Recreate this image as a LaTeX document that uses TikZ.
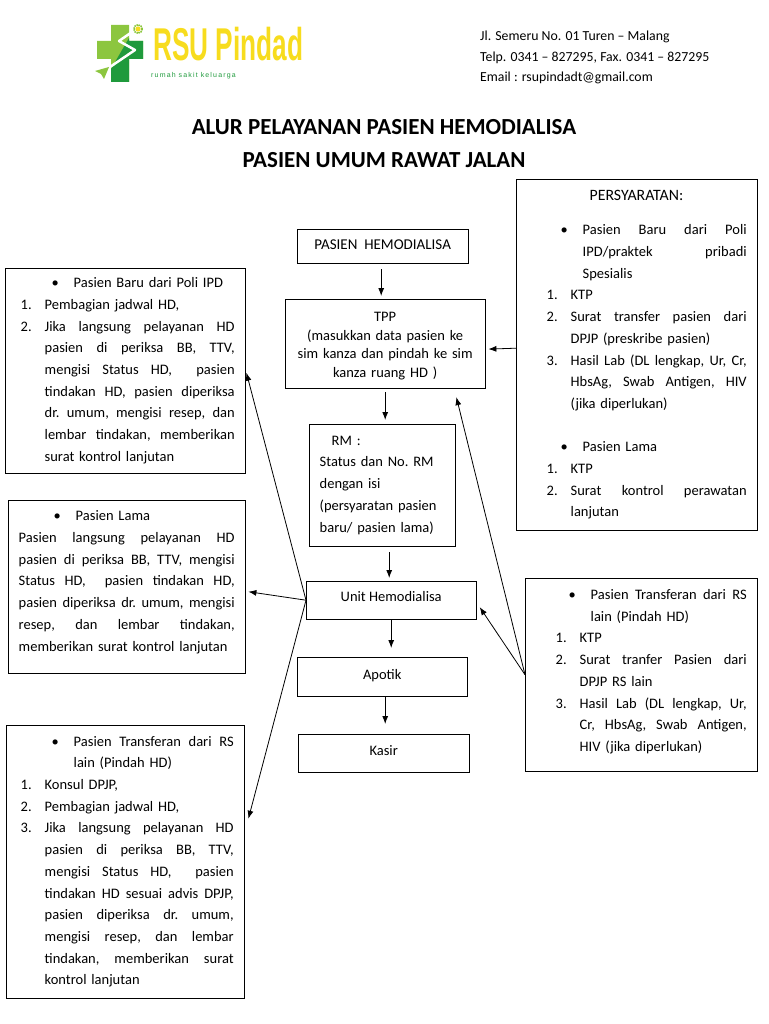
\documentclass[tikz,border=0pt]{standalone}
\usepackage{fontspec}
\usepackage{graphicx}
\setmainfont{Carlito}
\newfontfamily\logofont{Liberation Sans}
\usetikzlibrary{arrows.meta}

\newdimen\boxw
\newcommand{\jl}[2]{\hbox to \boxw{\frenchspacing\spaceskip=0.226em plus 1fil\relax\hskip #1pt\relax #2}}
\newcommand{\pl}[2]{\hbox to \boxw{\frenchspacing\hskip #1pt\relax #2\hfil}}
\newcommand{\nm}[1]{\llap{\hbox to 24pt{#1\hfil}}}
\newcommand{\bl}{\llap{\hbox to 22pt{\textbullet\hfil}}}
\newcommand{\up}[2][4]{\raisebox{#1pt}{#2}}

\definecolor{logolight}{HTML}{8CC63F}
\definecolor{logodark}{HTML}{1F9A3C}
\definecolor{logoyellow}{HTML}{F7DC1E}

\tikzset{
  body/.style={font=\fontsize{14.5}{21.7}\selectfont},
  kop/.style={font=\fontsize{13.8}{21}\selectfont,anchor=west,inner sep=0pt},
  infobox/.style={body,draw,anchor=north west,inner xsep=10.5pt,inner ysep=0pt,text width=#1pt,execute at begin node={\boxw=#1pt\relax}},
  stepbox/.style={body,draw,anchor=north west,inner sep=0pt,align=center},
  arr/.style={-{Latex[length=8pt,width=6pt]},line width=0.8pt}
}

\begin{document}
\begin{tikzpicture}[x=1pt,y=-1pt]

\useasboundingbox (0,0) rectangle (768,1024);

\fill[logolight] (111,25)--(129,25)--(129,41)--(143,41)--(143,59)--(129,59)--(129,82)--(111,82)--(111,59)--(97,59)--(97,41)--(111,41)--cycle;
\fill[logodark] (129,38)--(129,41)--(143,41)--(143,59)--(129,59)--(129,82)--(111,82)--(111,69)--cycle;
\draw[white,line width=2.5pt,line join=round] (132,32)--(119,41)--(135,50)--(107,69);
\fill[logolight] (95,71)--(109,67)--(104,79)--(101,74)--cycle;
\draw[logolight,line width=1.6pt,dash pattern=on 1.5pt off 0.7pt] (138,29) circle (4.2);
\fill[logoyellow] (138,29) circle (2.6);
\node[anchor=west,inner sep=0pt,text=logoyellow] (logotitle) at (153,44) {\scalebox{0.57}[1]{\logofont\bfseries\fontsize{46}{46}\selectfont RSU Pindad}};
\node[anchor=west,inner sep=0pt,text=logodark] (logosub) at (151,76) {\logofont\fontsize{7}{8}\selectfont r\,u\,m\,a\,h\hskip 3pt s\,a\,k\,i\,t\hskip 3pt k\,e\,l\,u\,a\,r\,g\,a};

\node[kop] (alamat) at (480,37) {Jl. Semeru No. 01 Turen – Malang};
\node[kop] (telp) at (480,58) {Telp. 0341 – 827295, Fax. 0341 – 827295};
\node[kop] (email) at (480,78) {Email : rsupindadt@gmail.com};

\node[font=\fontsize{23}{33}\selectfont\bfseries,align=center,inner sep=0pt] (judul) at (384,143.5) {ALUR PELAYANAN PASIEN HEMODIALISA\\PASIEN UMUM RAWAT JALAN};

\node[stepbox,minimum width=171pt,minimum height=34pt] (pasien) at (297,229) {\up{\fontsize{15}{21.7}\selectfont PASIEN\ \ HEMODIALISA}};
\node[stepbox,minimum width=200pt,minimum height=89pt,text width=198pt,font=\fontsize{14.5}{18.5}\selectfont] (tpp) at (285,299) {\rule{0pt}{14pt}TPP\\(masukkan data pasien ke\\sim kanza dan pindah ke sim\\kanza ruang HD )};
\node[infobox=125,minimum height=122pt] (rm) at (309,424) {
\pl{12}{RM :}
\pl{0}{Status dan No. RM}
\pl{0}{dengan isi}
\pl{0}{(persyaratan pasien}
\pl{0}{baru/ pasien lama)}
};
\node[stepbox,minimum width=170pt,minimum height=38pt] (unit) at (306,581) {\up[7]{Unit Hemodialisa}};
\node[stepbox,minimum width=170pt,minimum height=39pt] (apotik) at (297,657) {\up[5]{Apotik}};
\node[stepbox,minimum width=171pt,minimum height=38pt] (kasir) at (298,734) {\up[6]{Kasir}};

\node[infobox=219,minimum height=205pt] (baru) at (5,268) {
\pl{58}{\bl Pasien Baru dari Poli IPD}
\pl{29}{\nm{1.}Pembagian jadwal HD,}
\jl{29}{\nm{2.}Jika langsung pelayanan HD}
\jl{29}{pasien di periksa BB, TTV,}
\jl{29}{mengisi Status HD,\ \ pasien}
\jl{29}{tindakan HD, pasien diperiksa}
\jl{29}{dr. umum, mengisi resep, dan}
\jl{29}{lembar tindakan, memberikan}
\pl{29}{surat kontrol lanjutan}
};
\node[infobox=216,minimum height=173pt] (lama) at (8,500) {
\pl{57}{\bl Pasien Lama}
\jl{0}{Pasien langsung pelayanan HD}
\jl{0}{pasien di periksa BB, TTV, mengisi}
\jl{0}{Status HD,\ \ pasien tindakan HD,}
\jl{0}{pasien diperiksa dr. umum, mengisi}
\jl{0}{resep, dan lembar tindakan,}
\pl{0}{memberikan surat kontrol lanjutan}
\vskip 9pt\kern0pt
};
\node[infobox=217,minimum height=273pt] (rujuk) at (6,725) {
\jl{57}{\bl Pasien Transferan dari RS}
\pl{57}{lain (Pindah HD)}
\pl{28}{\nm{1.}Konsul DPJP,}
\pl{28}{\nm{2.}Pembagian jadwal HD,}
\jl{28}{\nm{3.}Jika langsung pelayanan HD}
\jl{28}{pasien di periksa BB, TTV,}
\jl{28}{mengisi Status HD,\ \ pasien}
\jl{28}{tindakan HD sesuai advis DPJP,}
\jl{28}{pasien diperiksa dr. umum,}
\jl{28}{mengisi resep, dan lembar}
\jl{28}{tindakan, memberikan surat}
\pl{28}{kontrol lanjutan}
};

\node[infobox=220,minimum height=351pt] (syarat) at (516,179) {
\pl{63}{\fontsize{15.8}{21.7}\selectfont PERSYARATAN:}
\vskip 13pt
\jl{56}{\bl Pasien Baru dari Poli}
\jl{56}{IPD/praktek pribadi}
\pl{56}{Spesialis}
\pl{44}{\nm{1.}KTP}
\jl{44}{\nm{2.}Surat transfer pasien dari}
\pl{44}{DPJP (preskribe pasien)}
\jl{44}{\nm{3.}Hasil Lab (DL lengkap, Ur, Cr,}
\jl{44}{HbsAg, Swab Antigen, HIV}
\pl{44}{(jika diperlukan)}
\vskip 21.7pt
\pl{56}{\bl Pasien Lama}
\pl{44}{\nm{1.}KTP}
\jl{44}{\nm{2.}Surat kontrol perawatan}
\pl{44}{lanjutan}
};
\node[infobox=211,minimum height=193pt] (transfer) at (525,578) {
\jl{55}{\bl Pasien Transferan dari RS}
\pl{55}{lain (Pindah HD)}
\pl{44}{\nm{1.}KTP}
\jl{44}{\nm{2.}Surat tranfer Pasien dari}
\pl{44}{DPJP RS lain}
\jl{44}{\nm{3.}Hasil Lab (DL lengkap, Ur,}
\jl{44}{Cr, HbsAg, Swab Antigen,}
\pl{44}{HIV (jika diperlukan)}
\vskip 6pt\kern0pt
};

\draw[arr,shorten <=6pt,shorten >=3pt] ([xshift=-1.5pt]pasien.south)--([xshift=-4pt]tpp.north);
\draw[arr,shorten <=4pt,shorten >=4pt] (tpp.south)--(tpp.south|-rm.north);
\draw[arr,shorten <=6pt,shorten >=3pt] ([xshift=7pt]rm.south)--([xshift=-2pt]unit.north);
\draw[arr,shorten <=1pt,shorten >=9pt] (unit.south)--(unit.south|-apotik.north);
\draw[arr,shorten <=1pt,shorten >=10pt] ([xshift=3pt]apotik.south)--([xshift=1.5pt]kasir.north);

\foreach \target/\dx/\dy in {baru/1/2,lama/3/5,rujuk/4/-43}
{
\draw[arr] (unit.west)--([xshift=\dx pt,yshift=-\dy pt]\target.east);
}

\draw[arr,shorten >=3pt] ([yshift=6.5pt]syarat.west)--([yshift=-5.5pt]tpp.east);
\draw[arr,shorten >=6pt] (transfer.west)--([yshift=-2pt]unit.east);
\draw[arr,shorten >=9pt] (transfer.west)--([xshift=69pt]tpp.south);

\end{tikzpicture}
\end{document}
